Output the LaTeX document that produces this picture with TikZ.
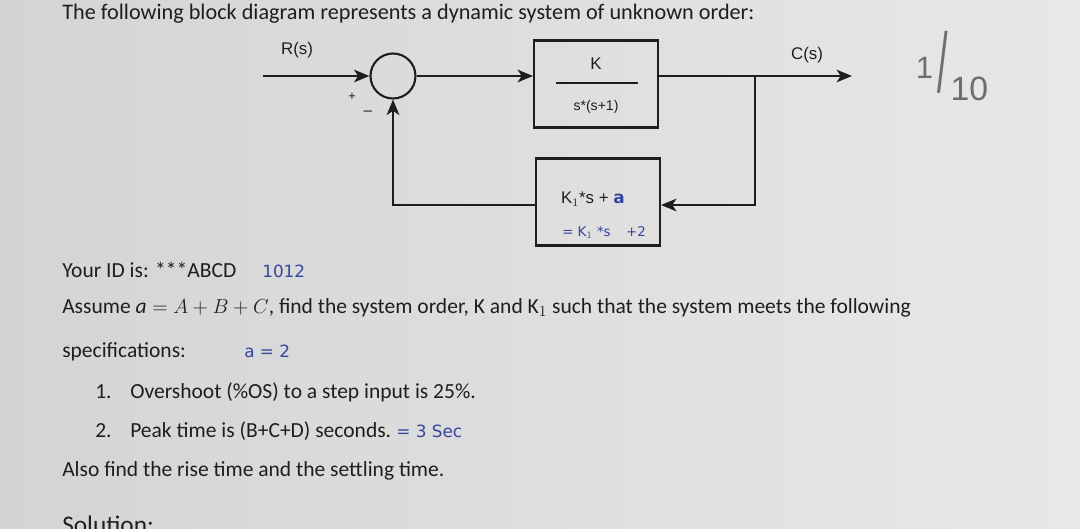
\documentclass[tikz,border=0pt]{standalone}
\usepackage{fontspec}
\setmainfont{Carlito}
\newfontfamily\diag{Liberation Sans}
\newfontfamily\hand{DejaVu Sans}
\usetikzlibrary{arrows.meta}
\definecolor{bgL}{RGB}{212,212,212}
\definecolor{bgR}{RGB}{232,232,232}
\definecolor{ink}{RGB}{30,30,30}
\definecolor{pen}{RGB}{52,70,160}
\definecolor{pencil}{RGB}{110,110,110}
\tikzset{
  body/.style={anchor=base west, inner sep=0pt, text=ink, font=\fontsize{15.3}{17}\selectfont},
  lbl/.style={inner sep=0pt, text=ink, font=\diag\fontsize{12}{14}\selectfont},
  blk/.style={draw=ink, line width=1.6pt, minimum width=88pt, minimum height=62pt, inner sep=0pt},
  sig/.style={draw=ink, line width=1.5pt},
  arr/.style={sig, -{Stealth[length=11pt, width=9pt, inset=3pt]}},
  hw/.style={inner sep=0pt, text=pen, font=\hand\fontsize{12}{14}\selectfont},
}
\begin{document}
\begin{tikzpicture}[x=0.025cm, y=-0.025cm]
\useasboundingbox (0,0) rectangle (1080,528);
\clip (0,0) rectangle (1080,528);
\shade[left color=bgL, right color=bgR] (0,0) rectangle (1080,528);

% title
\node[body, font=\fontsize{15.8}{17}\selectfont] (title) at (62,19) {The following block diagram represents a dynamic system of unknown order:};

% block diagram
\coordinate (rin) at (263,76);
\node[circle, draw=ink, line width=1.5pt, minimum size=32pt, inner sep=0pt] (sum) at (393,76) {};
\node[blk] (G) at (596,84) {};
\node[lbl, font=\diag\fontsize{12}{14}\selectfont] (Kn) at (596,64) {K};
\draw[sig, line width=1.2pt] (556,83) -- (638,83);
\node[lbl, font=\diag\fontsize{10}{12}\selectfont] (Gd) at (596,107) {s*(s+1)};
\node[blk] (H) at (598,202) {};
\node[lbl, font=\diag\fontsize{12}{14}\selectfont] (Hn) at (593,199) {K$_1$*s + \textcolor{pen}{\hand\bfseries a}};
\node[hw, font=\hand\fontsize{9.5}{11}\selectfont, anchor=west] (Hh) at (562,233) {= K$_1$ *s \,\,\,\,\,+2};
\coordinate (cout) at (852,76);
\coordinate (br) at (755,76);
\coordinate (brd) at (755,205);
\node[lbl] (R) at (297,50) {R(s)};
\node[lbl] (C) at (807,55) {C(s)};
\node[lbl, font=\diag\fontsize{9}{10}\selectfont] (plus) at (352,97) {+};
\node[lbl, font=\diag\fontsize{11}{11}\selectfont] (minus) at (368,113) {\textendash};

\draw[arr] (rin) -- (sum.west);
\draw[arr] (sum.east) -- (G.west |- sum);
\draw[arr] (G.east |- br) -- (cout);
\draw[arr] (br) -- (brd) -- (H.east |- brd);
\draw[arr] (H.west |- brd) -- (sum.south |- brd) -- (sum.south);

% pencil 1/10
\node[inner sep=0pt, text=pencil, font=\diag\fontsize{30}{30}\selectfont] (frac) at (952,66) {\raisebox{10pt}{\fontsize{22}{22}\selectfont 1}\hspace{3pt}\scalebox{0.9}[2.0]{/}\hspace{2pt}\raisebox{-6pt}{\fontsize{24}{24}\selectfont 10}};

% text
\node[body] (id) at (62,277) {Your ID is: ***ABCD};
\node[hw, anchor=base west] (idv) at (262,277) {1012};
\node[body] (assume) at (62,313) {Assume $\mathit{a} = A + B + C$, find the system order, K and K$_1$ such that the system meets the following};
\node[body] (spec) at (62,357) {specifications:};
\node[hw, anchor=base west] (av) at (244,357) {a = 2};
\node[body] (n1) at (95,398) {1.};
\node[body] (i1) at (130,398) {Overshoot (\%OS) to a step input is 25\%.};
\node[body] (n2) at (95,437) {2.};
\node[body] (i2) at (130,437) {Peak time is (B+C+D) seconds.};
\node[hw, anchor=base west] (tv) at (396,437) {= 3 Sec};
\node[body] (also) at (62,476) {Also find the rise time and the settling time.};
\node[body, font=\fontsize{18}{20}\selectfont] (sol) at (62,533) {Solution:};
\end{tikzpicture}
\end{document}
